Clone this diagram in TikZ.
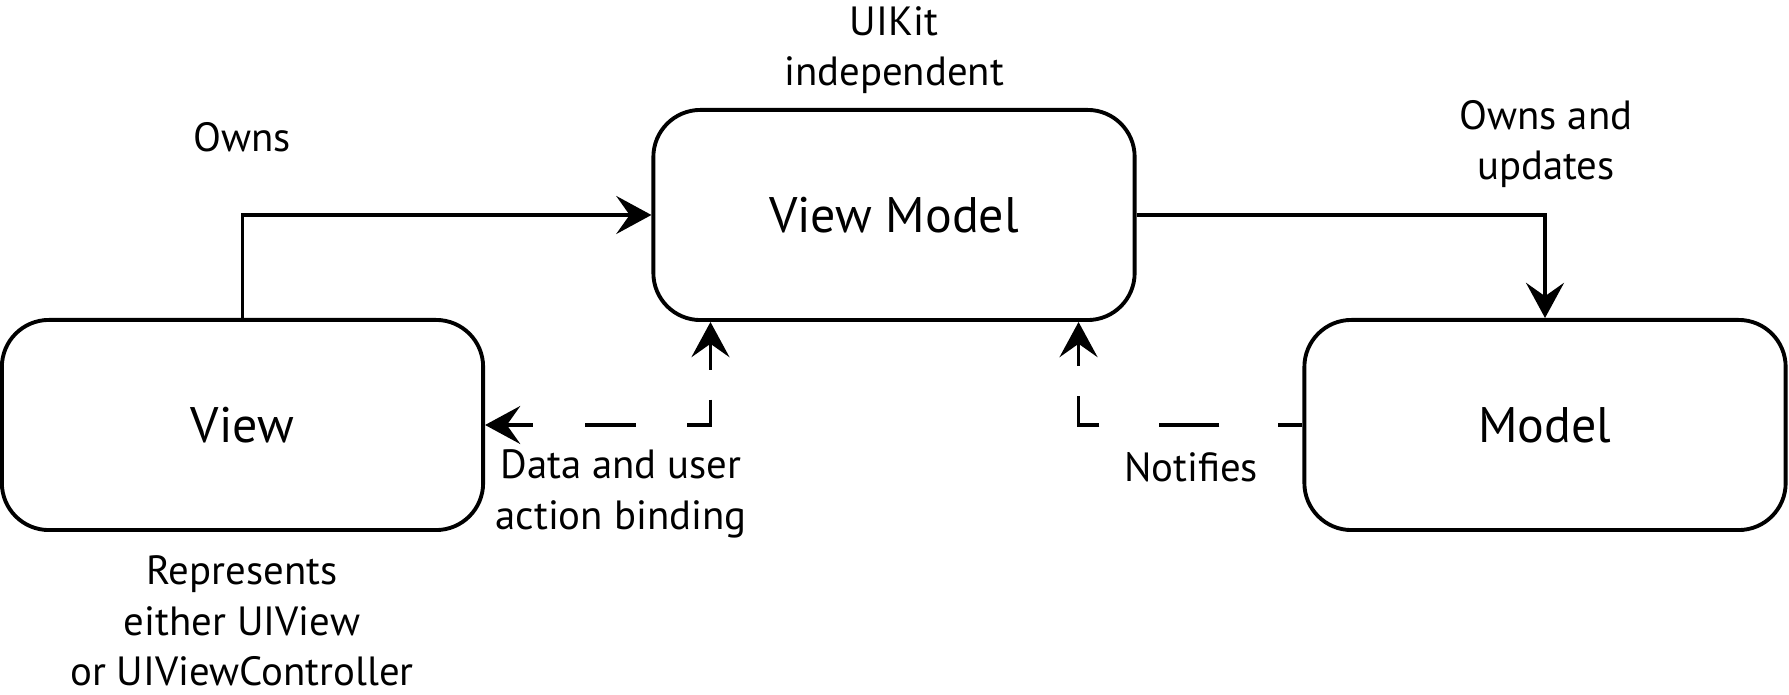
\documentclass[tikz,border=0pt]{standalone}
\usepackage{fontspec}
\setmainfont{PT Sans}
\usetikzlibrary{arrows.meta}
\begin{document}
\begin{tikzpicture}[x=.01cm, y=-.01cm, >={Stealth[length=10pt, width=10.8pt, inset=3.8pt]},
    box/.style={draw, line width=1.1pt, rounded corners=.47cm, minimum width=4.81cm, minimum height=2.1cm, font=\fontsize{14.2}{17}\selectfont},
    note/.style={align=center, font=\fontsize{11.6}{14.4}\selectfont},
    link/.style={line width=1pt}]
    \useasboundingbox (0,0) rectangle (1789,695);
\node[box] (view) at (242.5,425) {View};
\node[box] (vm) at (894,215) {View Model};
\node[box] (model) at (1545,425) {Model};
% solid links
\draw[link, ->] (view.north) |- (vm.west);
\draw[link, ->] (vm.east) -| (model.north);
% dashed links
\draw[link, <->, dash pattern=on .27cm off .30cm on .49cm off .51cm on .51cm off .52cm on .6cm]
    ([xshift=.59cm]vm.south west) |- (view.east);
\draw[link, ->, dash pattern=on .24cm off .59cm on .60cm off .60cm on .50cm off .30cm on .6cm]
    (model.west) -| ([xshift=-.58cm]vm.south east);
\node[note] (owns) at (242,137) {Owns};
\node[note] (indep) at (894,50) {UIKit\\independent};
\node[note] (updates) at (1546,144) {Owns and\\updates};
\node[note] (binding) at (621,494) {Data and user\\action binding};
\node[note] (notifies) at (1191,467) {Notifies};
\node[note] (represents) at (242,621) {Represents\\either UIView\\or UIViewController};

\end{tikzpicture}
\end{document}
